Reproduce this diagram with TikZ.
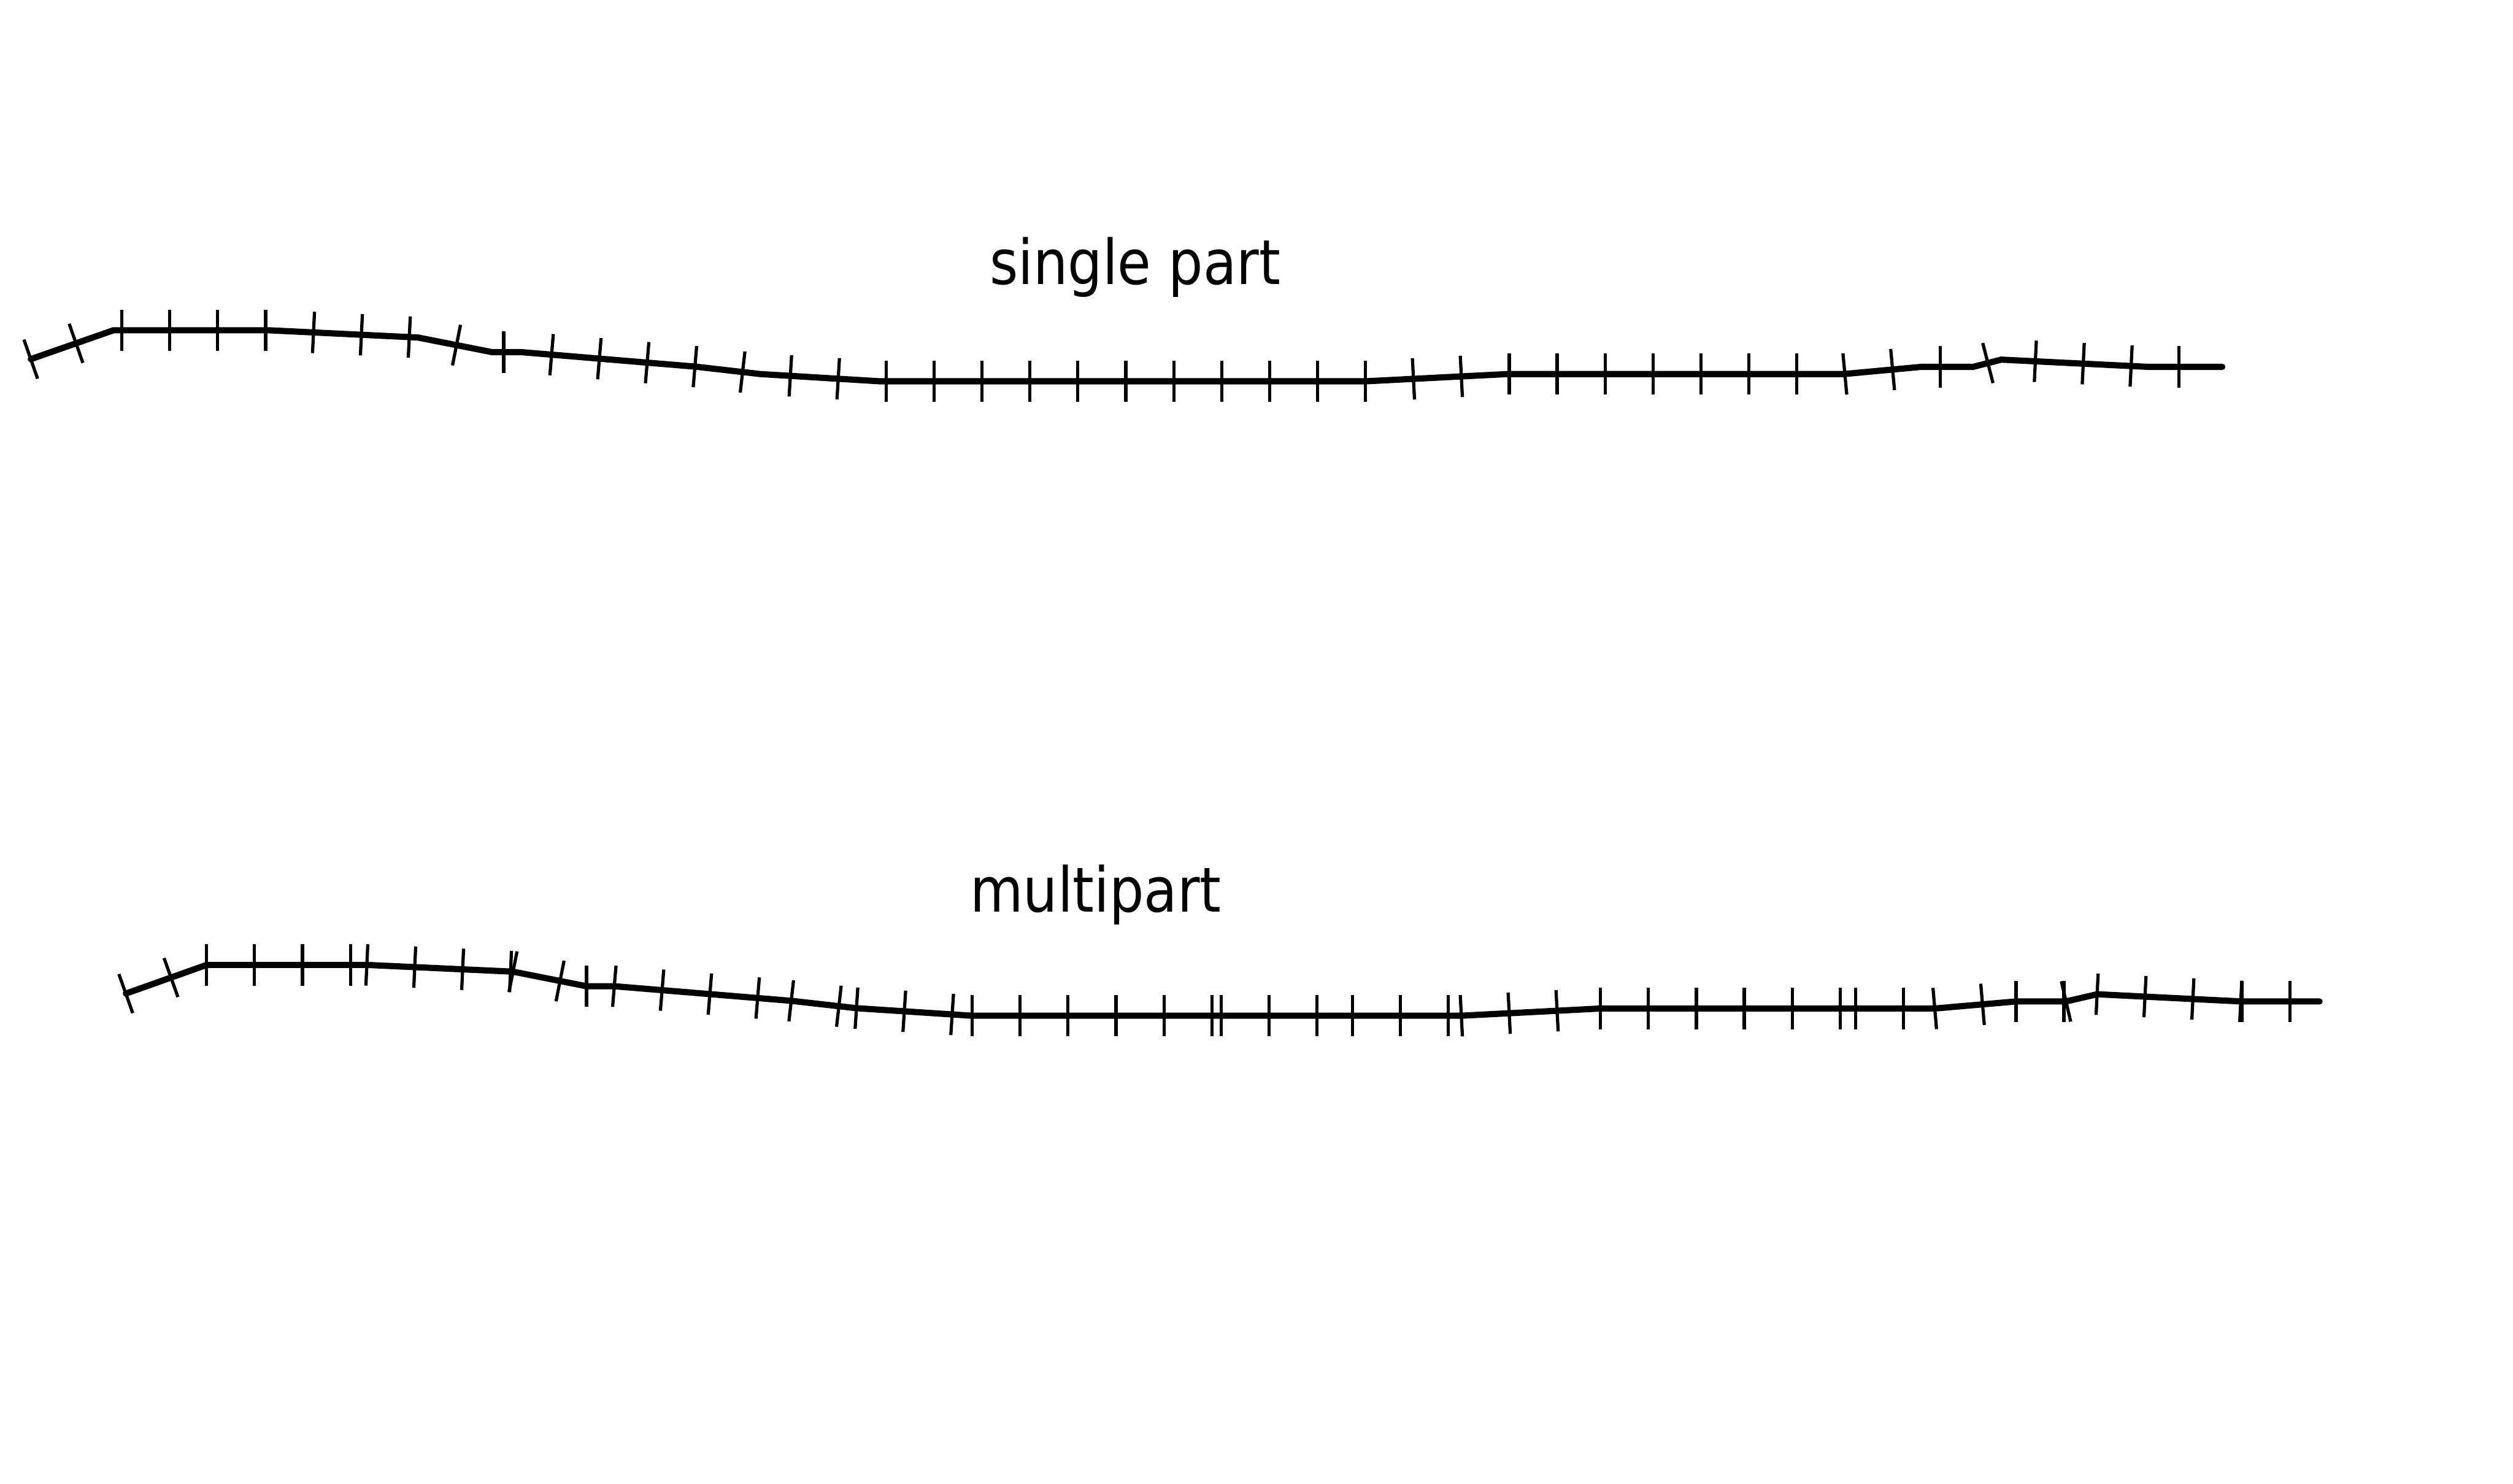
\documentclass[tikz,border=0pt]{standalone}
\usepackage{fontspec}
\setmainfont{DejaVu Sans}[FakeStretch=0.88]
\usetikzlibrary{decorations.markings}
\begin{document}
\begin{tikzpicture}[x=0.01cm,y=-0.01cm,
  mainline/.style={line width=0.0387cm, line cap=round, line join=miter},
  hashmark/.style={line width=0.02cm, line cap=butt},
  hashed/.style={decoration={markings,
     mark=between positions 0 and 1 step 0.299cm with {\draw[hashmark] (0,-0.129cm) -- (0,0.129cm);}},
     decorate},
  titletext/.style={inner sep=0pt, anchor=base, font=\fontsize{11pt}{13pt}\selectfont}]
\useasboundingbox (0,0) rectangle (1568,926);

% ---------- titles ----------
\node[titletext] (tsingle) at (708.3,177.4) {single part};
\node[titletext] (tmulti) at (683.7,569.0) {multipart};

% ---------- single part line ----------
\coordinate (t0) at (19.2,224.1);
\coordinate (t1) at (70.7,206.1);
\coordinate (t2) at (168.3,206.1);
\coordinate (t3) at (260.8,210.6);
\coordinate (t4) at (306.9,219.7);
\coordinate (t5) at (325.0,219.7);
\coordinate (t6) at (434.2,228.8);
\coordinate (t7) at (474.5,233.4);
\coordinate (t8) at (548.8,237.9);
\coordinate (t9) at (852.4,237.9);
\coordinate (t10) at (940.6,233.4);
\coordinate (t11) at (1150.4,233.4);
\coordinate (t12) at (1198.9,228.9);
\coordinate (t13) at (1231.2,228.9);
\coordinate (t14) at (1248.7,224.4);
\coordinate (t15) at (1340.2,228.9);
\coordinate (t16) at (1386.6,228.9);

\draw[mainline] (t0) -- (t1) -- (t2) -- (t3) -- (t4) -- (t5) -- (t6) -- (t7) -- (t8)
  -- (t9) -- (t10) -- (t11) -- (t12) -- (t13) -- (t14) -- (t15) -- (t16);
\path[hashed] (t0) -- (t1) -- (t2) -- (t3) -- (t4) -- (t5) -- (t6) -- (t7) -- (t8)
  -- (t9) -- (t10) -- (t11) -- (t12) -- (t13) -- (t14) -- (t15) -- (t16);

% ---------- multipart line ----------
\coordinate (b0) at (78.5,620.0);
\coordinate (b1) at (128.9,602.1);
\coordinate (b2) at (228.9,602.1);
\coordinate (b3) at (320.1,606.3);
\coordinate (b4) at (366.0,615.4);
\coordinate (b5) at (383.3,615.4);
\coordinate (b6) at (493.7,624.5);
\coordinate (b7) at (534.4,629.1);
\coordinate (b8) at (606.5,633.8);
\coordinate (h1) at (696.5,633.8);
\coordinate (h2) at (761.9,633.8);
\coordinate (h3) at (843.8,633.8);
\coordinate (b9) at (911.8,633.8);
\coordinate (b10) at (998.6,629.3);
\coordinate (h4) at (1157.7,629.3);
\coordinate (b11) at (1207.2,629.3);
\coordinate (b12) at (1257.9,624.9);
\coordinate (b13) at (1289.1,624.9);
\coordinate (b14) at (1308.5,620.4);
\coordinate (b15) at (1398.8,624.9);
\coordinate (b16) at (1447.3,624.9);

\draw[mainline] (b0) -- (b1) -- (b2) -- (b3) -- (b4) -- (b5) -- (b6) -- (b7) -- (b8)
  -- (b9) -- (b10) -- (b11) -- (b12) -- (b13) -- (b14) -- (b15) -- (b16);
\foreach \pa/\pb in {b0/b1, b1/b2, b2/b3, b3/b4, b4/b5, b5/b6, b6/b7, b7/b8,
    b8/h1, h1/h2, h2/h3, h3/b9, b9/b10, b10/h4, h4/b11, b11/b12, b12/b13,
    b13/b14, b14/b15, b15/b16}
  \path[hashed] (\pa) -- (\pb);
\end{tikzpicture}
\end{document}
